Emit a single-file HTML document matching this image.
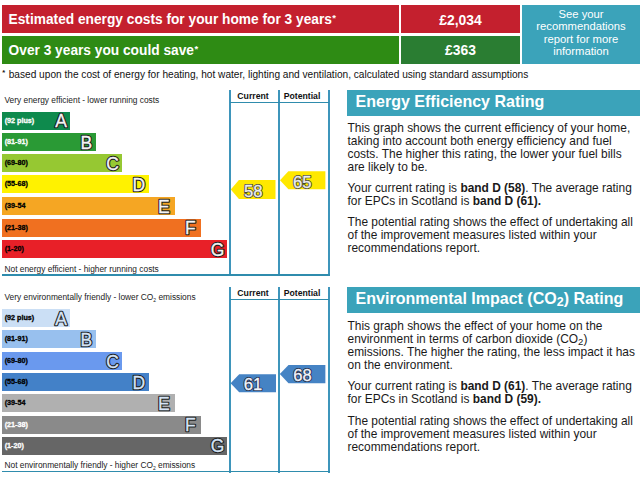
<!DOCTYPE html>
<html><head><meta charset="utf-8">
<style>
html,body{margin:0;padding:0;background:#fff;}
body{width:640px;height:480px;position:relative;overflow:hidden;font-family:"Liberation Sans",sans-serif;color:#222;}
.abs{position:absolute;}
.bar{position:absolute;color:#fff;font-weight:bold;}
.hd{font-size:13.72px;line-height:28px;white-space:nowrap;}
.val{text-align:center;font-size:13.9px;line-height:28px;}
.note{position:absolute;left:2.3px;top:69px;font-size:10.13px;white-space:nowrap;color:#111;}
.lbl{position:absolute;font-size:8.35px;color:#222;white-space:nowrap;}
.band{position:absolute;left:2px;height:18px;}
.band span.r{position:absolute;left:2.7px;top:0;line-height:17.6px;font-size:7.2px;font-weight:bold;color:#000;-webkit-text-stroke:0.3px #000;}
.band.w span.r{color:#fff;-webkit-text-stroke:0.3px #fff;}
.vline{position:absolute;width:1.9px;background:#3e95bb;}
.hline{position:absolute;height:1.5px;background:#2f8cad;}
.colh{position:absolute;font-size:8.7px;font-weight:bold;color:#111;text-align:center;}
.title{position:absolute;left:347px;width:293px;height:26px;background:#3ba3ba;color:#fff;font-weight:bold;font-size:16.02px;line-height:22px;box-sizing:border-box;padding-left:8.6px;white-space:nowrap;}
.p{position:absolute;left:347.5px;font-size:11.93px;line-height:13.1px;color:#1a1a1a;white-space:nowrap;}
svg{position:absolute;left:0;top:0;}
</style></head><body>

<div class="bar hd" style="left:2px;top:5px;width:397px;height:28px;line-height:30px;background:#c4202e;"><span style="padding-left:6.6px">Estimated energy costs for your home for 3 years<span style="font-size:9.5px;line-height:1px;position:relative;top:-3px;left:0.5px">*</span></span></div>
<div class="bar val" style="left:401px;top:5px;width:119px;height:28px;line-height:30px;background:#c4202e;">£2,034</div>
<div class="bar hd" style="left:2px;top:35.5px;width:397px;height:28px;line-height:30px;background:#2e8b14;"><span style="padding-left:6.6px">Over 3 years you could save<span style="font-size:9.5px;line-height:1px;position:relative;top:-3px;left:0.5px">*</span></span></div>
<div class="bar val" style="left:401px;top:35.5px;width:119px;height:28px;background:#2a7d32;">£363</div>
<div class="abs" style="left:522px;top:5px;width:118px;height:58.5px;background:#3ba3ba;color:#fff;text-align:center;font-size:11.25px;line-height:12.35px;"><div style="padding-top:3px">See your<br>recommendations<br>report for more<br>information</div></div>

<div class="note"><span style="font-size:7.5px;font-weight:bold;line-height:1px;position:relative;top:-3.2px;margin-right:0.7px">*</span> based upon the cost of energy for heating, hot water, lighting and ventilation, calculated using standard assumptions</div>

<!-- Chart 1 -->
<div class="lbl" style="left:4.5px;top:95px;">Very energy efficient - lower running costs</div>
<div class="band w" style="top:111.8px;width:67.8px;background:#0e8a4d;"><span class="r">(92 plus)</span></div>
<div class="band w" style="top:133.2px;width:94.1px;background:#2a9a35;"><span class="r">(81-91)</span></div>
<div class="band" style="top:154.4px;width:120.2px;background:#96c832;"><span class="r">(69-80)</span></div>
<div class="band" style="top:175.2px;width:146.5px;background:#fff200;"><span class="r">(55-68)</span></div>
<div class="band" style="top:197.0px;width:172.7px;background:#f5a623;"><span class="r">(39-54</span></div>
<div class="band" style="top:218.6px;width:198.7px;background:#f07020;"><span class="r">(21-38)</span></div>
<div class="band" style="top:240.3px;width:224.9px;background:#e82028;"><span class="r">(1-20)</span></div>
<div class="lbl" style="left:4.5px;top:264px;">Not energy efficient - higher running costs</div>

<div class="vline" style="left:229.3px;top:90px;height:185.6px;"></div>
<div class="vline" style="left:278.2px;top:90px;height:185.6px;"></div>
<div class="vline" style="left:328px;top:90px;height:185.6px;"></div>
<div class="hline" style="left:230px;top:101.8px;width:99px;"></div>
<div class="hline" style="left:2px;top:274.2px;width:327.8px;"></div>
<div class="colh" style="left:229.5px;width:47px;top:91px;">Current</div>
<div class="colh" style="left:278px;width:48px;top:91px;">Potential</div>

<!-- Chart 2 -->
<div class="lbl" style="left:4.5px;top:292px;">Very environmentally friendly - lower CO<span style="font-size:5px;position:relative;top:2px">2</span> emissions</div>
<div class="band" style="top:309.0px;width:67.8px;background:#cbdff5;"><span class="r">(92 plus)</span></div>
<div class="band" style="top:330.4px;width:94.1px;background:#98c0ee;"><span class="r">(81-91)</span></div>
<div class="band" style="top:351.9px;width:120.2px;background:#6a99ee;"><span class="r">(69-80)</span></div>
<div class="band" style="top:373.0px;width:146.5px;background:#4381c8;"><span class="r">(55-68)</span></div>
<div class="band" style="top:394.3px;width:172.7px;background:#b0b0b0;"><span class="r">(39-54</span></div>
<div class="band w" style="top:415.8px;width:198.7px;background:#8a8a8a;"><span class="r">(21-38)</span></div>
<div class="band w" style="top:436.8px;width:224.9px;background:#666666;"><span class="r">(1-20)</span></div>
<div class="lbl" style="left:4.5px;top:460.4px;">Not environmentally friendly - higher CO<span style="font-size:5px;position:relative;top:2px">2</span> emissions</div>

<div class="vline" style="left:229.3px;top:287px;height:185.6px;"></div>
<div class="vline" style="left:278.2px;top:287px;height:185.6px;"></div>
<div class="vline" style="left:328px;top:287px;height:185.6px;"></div>
<div class="hline" style="left:230px;top:298.8px;width:99px;"></div>
<div class="hline" style="left:2px;top:470.9px;width:327.8px;"></div>
<div class="colh" style="left:229.5px;width:47px;top:288px;">Current</div>
<div class="colh" style="left:278px;width:48px;top:288px;">Potential</div>

<svg width="640" height="480" viewBox="0 0 640 480">
<polygon points="230.8,189.5 238.9,180 275.5,180 275.5,198.9 238.9,198.9" fill="#ffe800"/>
<polygon points="280,180.2 288.4,171.2 325.4,171.2 325.4,189.3 288.4,189.3" fill="#ffe800"/>
<polygon points="230.6,383.2 239.2,374.2 276,374.2 276,392.3 239.2,392.3" fill="#4583c4"/>
<polygon points="279.8,374.1 288.5,365.1 325.4,365.1 325.4,383.2 288.5,383.2" fill="#4583c4"/>
<g font-family="Liberation Sans, sans-serif" font-size="17.5" text-anchor="middle" stroke-linejoin="round">
<g fill="#1e1e1e" stroke="#1e1e1e" stroke-width="2.5"><text x="61.05" y="127.4">A</text><text x="86.25" y="148.8">B</text><text x="112.50" y="170.0">C</text><text x="138.80" y="190.8">D</text><text x="163.95" y="212.6">E</text><text x="190.30" y="234.2">F</text><text x="217.60" y="255.9">G</text><text x="61.05" y="324.6">A</text><text x="86.25" y="346.0">B</text><text x="112.50" y="367.5">C</text><text x="138.80" y="388.6">D</text><text x="163.95" y="409.9">E</text><text x="190.30" y="431.4">F</text><text x="217.60" y="452.4">G</text></g>
<g fill="#f4f4f4" stroke="#f4f4f4" stroke-width="0.3"><text x="61.05" y="127.4">A</text><text x="86.25" y="148.8">B</text><text x="112.50" y="170.0">C</text><text x="138.80" y="190.8">D</text><text x="163.95" y="212.6">E</text><text x="190.30" y="234.2">F</text><text x="217.60" y="255.9">G</text></g>
<g fill="#d6e4f6" stroke="#d6e4f6" stroke-width="0.3"><text x="61.05" y="324.6">A</text><text x="86.25" y="346.0">B</text><text x="112.50" y="367.5">C</text><text x="138.80" y="388.6">D</text><text x="163.95" y="409.9">E</text><text x="190.30" y="431.4">F</text><text x="217.60" y="452.4">G</text></g>
</g>
<g font-family="Liberation Sans, sans-serif" font-size="16.6" text-anchor="middle" stroke-linejoin="round">
<g fill="#443" stroke="#443" stroke-width="2.1"><text x="253.2" y="196.8">58</text><text x="302.2" y="187.8">65</text></g>
<g fill="#eee" stroke="#eee" stroke-width="0.35"><text x="253.2" y="196.8">58</text><text x="302.2" y="187.8">65</text></g>
<g fill="#1c2440" stroke="#1c2440" stroke-width="2.1"><text x="253" y="389.8">61</text><text x="302.4" y="380.7">68</text></g>
<g fill="#f2f5fb" stroke="#f2f5fb" stroke-width="0.35"><text x="253" y="389.8">61</text><text x="302.4" y="380.7">68</text></g>
</g>
</svg>

<div class="title" style="top:89.6px;">Energy Efficiency Rating</div>
<div class="p" style="top:122.2px;">This graph shows the current efficiency of your home,<br>taking into account both energy efficiency and fuel<br>costs. The higher this rating, the lower your fuel bills<br>are likely to be.</div>
<div class="p" style="top:181.7px;">Your current rating is <b>band D (58)</b>. The average rating<br>for EPCs in Scotland is <b>band D (61).</b></div>
<div class="p" style="top:215.6px;">The potential rating shows the effect of undertaking all<br>of the improvement measures listed within your<br>recommendations report.</div>

<div class="title" style="top:286.6px;">Environmental Impact (CO<span style="font-size:12.5px;position:relative;top:2.6px">2</span>) Rating</div>
<div class="p" style="top:319.9px;">This graph shows the effect of your home on the<br>environment in terms of carbon dioxide (CO<span style="font-size:9.5px;line-height:1px;position:relative;top:2.2px">2</span>)<br>emissions. The higher the rating, the less impact it has<br>on the environment.</div>
<div class="p" style="top:379.9px;">Your current rating is <b>band D (61)</b>. The average rating<br>for EPCs in Scotland is <b>band D (59).</b></div>
<div class="p" style="top:414.7px;">The potential rating shows the effect of undertaking all<br>of the improvement measures listed within your<br>recommendations report.</div>

</body></html>
